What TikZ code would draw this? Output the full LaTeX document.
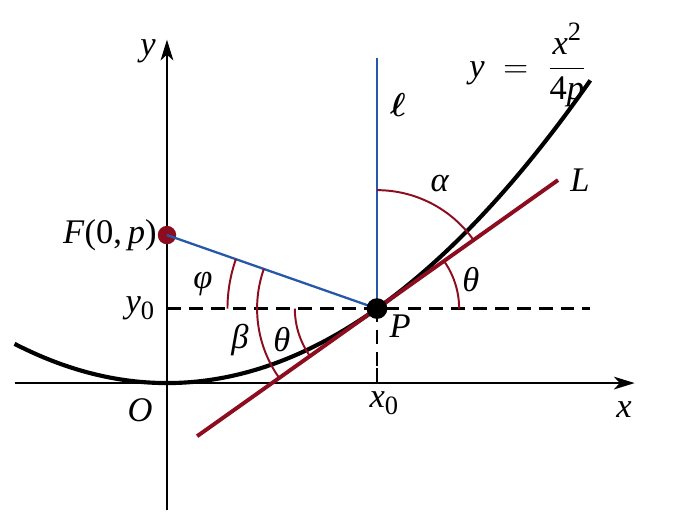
\documentclass[tikz,border=0pt]{standalone}
\usepackage{amsmath}
\usepackage{fontspec}
\setmainfont{Liberation Serif}
\usepackage{tikz}
\usetikzlibrary{positioning}
\usetikzlibrary{calc}
\usetikzlibrary{arrows.meta}
\definecolor{tangentred}{RGB}{140,12,32}
\definecolor{rayblue}{RGB}{38,88,170}
\newcommand{\vi}[1]{\textit{#1}}
\newcommand{\lowidx}[1]{\raisebox{-0.45ex}{\fontsize{11.5}{12}\selectfont #1}}
\newcommand{\highidx}[1]{\raisebox{0.9ex}{\fontsize{11.5}{12}\selectfont #1}}
\tikzset{
    % A long, narrow arrow tip for the axes
    >={Stealth[length=9pt,width=5.5pt,inset=2.5pt]},
%
    % Coordinate axes
    axis line/.style={line width=1pt, ->},
%
    % The parabola itself
    curve line/.style={line width=1.8pt, black},
%
    % Tangent line at the point of contact
    tangent line/.style={line width=1.7pt, color=tangentred},
%
    % Rays to and from the point of contact
    ray line/.style={line width=1pt, color=rayblue},
%
    % Helper lines through the point of contact
    guide line/.style={line width=1pt, dash pattern=on 6pt off 3.5pt},
%
    % Arcs marking angles
    angle arc/.style={line width=0.85pt, color=tangentred},
%
    % Filled round points
    point dot/.style={circle, inner sep=0, minimum size=#1},
    label text/.style={font=\fontsize{15}{17}\selectfont}}

\begin{document}
\begin{tikzpicture}[x=2.26cm, y=2.26cm, every node/.style={label text}]

\useasboundingbox (-1.128,-0.885) rectangle (3.439,2.588);

% points of the figure
\coordinate (O) at (0,0);
\coordinate (xmin) at (-1.03,0);
\coordinate (xmax) at (3.16,0);
\coordinate (ymin) at (0,-0.86);
\coordinate (ymax) at (0,2.32);
\coordinate (x0) at (1.4189,0);
\coordinate (y0) at (0,0.5033);
\coordinate (y0end) at (2.858,0.5033);
\coordinate (Ppos) at (1.4189,0.5033);
\coordinate (ltop) at (1.4189,2.196);
\coordinate (Lstart) at ($(Ppos)+(215.36:1.49)$);
\coordinate (Lend) at ($(Ppos)+(35.36:1.50)$);

% axes
\draw [axis line] (xmin) -- (xmax);
\draw [axis line] (ymin) -- (ymax);
\node (xlab) at (3.088,-0.182) {\vi{x}};
\node (ylab) at (-0.128,2.24) {\vi{y}};
\node (olab) at (-0.182,-0.182) {\vi{O}};

% parabola
\draw [curve line] plot [domain=-1.03:2.86, samples=80, smooth] (\x, {\x*\x/4});
\node (eqn) at (2.44,2.149) {$\vi{y}\;=\;\dfrac{\vi{x}\highidx{2}}{\textrm{4}\vi{p}}$};

% helper lines
\draw [guide line] (y0) -- (y0end);
\draw [guide line] (Ppos) -- (x0);
\draw [line width=1pt] (x0) -- ++(0,0.1);
\node (x0lab) [below=0pt, xshift=3pt] at (x0) {\vi{x}\lowidx{0}};
\node (y0lab) [left=2pt] at (y0) {\vi{y}\lowidx{0}};

% tangent line L
\draw [tangent line] (Lstart) -- (Lend);
\node (Llab) at (2.79,1.372) {\vi{L}};

% rays
\node (F) [point dot=8pt, fill=tangentred] at (0,1) {};
\node (Flab) [left=1pt] at (F) {\vi{F}(0,\,\vi{p})};
\draw [ray line] (F.center) -- (Ppos);
\draw [ray line] (Ppos) -- (ltop);
\node (elllab) at (1.56,1.878) {$\boldsymbol{\ell}$};

% angles
\draw [angle arc] (Ppos) ++(90:0.8) arc [start angle=90, end angle=35.36, radius=0.8];
\draw [angle arc] (Ppos) ++(0:0.555) arc [start angle=0, end angle=35.36, radius=0.555];
\draw [angle arc] (Ppos) ++(160.71:1.01) arc [start angle=160.71, end angle=180, radius=1.01];
\draw [angle arc] (Ppos) ++(160.71:0.81) arc [start angle=160.71, end angle=215.36, radius=0.81];
\draw [angle arc] (Ppos) ++(180:0.555) arc [start angle=180, end angle=215.36, radius=0.555];
\node (alpha) at ($(Ppos)+(0.426,0.845)$) {\vi{α}};
\node (thetaR) at ($(Ppos)+(0.635,0.196)$) {\vi{θ}};
\node (phi) at ($(Ppos)+(-1.176,0.165)$) {\vi{φ}};
\node (beta) at ($(Ppos)+(-0.926,-0.21)$) {\vi{β}};
\node (thetaL) at ($(Ppos)+(-0.642,-0.21)$) {\vi{θ}};

% point of contact, on top
\node (P) [point dot=9pt, fill=black] at (Ppos) {};
\node (Plab) [below right=-1pt and 2pt] at (P) {\vi{P}};

\end{tikzpicture}
\end{document}
